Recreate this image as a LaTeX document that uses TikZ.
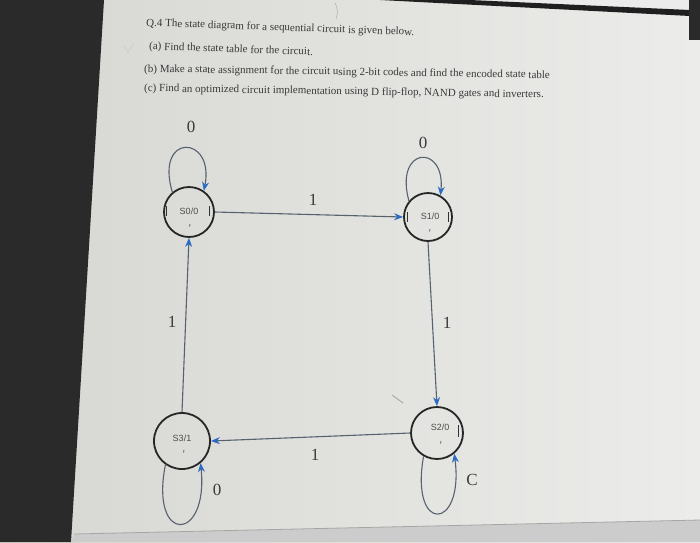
\documentclass[tikz,border=0pt]{standalone}
\usepackage{fontspec}
\setmainfont{Liberation Serif}
\newfontfamily\stfont{Liberation Sans}
\usetikzlibrary{arrows.meta}
\definecolor{pageL}{HTML}{D6D6D2}
\definecolor{pageR}{HTML}{ECECEA}
\definecolor{darkbg}{HTML}{2A2A2A}
\definecolor{linec}{HTML}{56626E}
\definecolor{tipblue}{HTML}{2C6BC4}
\definecolor{txtc}{HTML}{3A3A3A}
\tikzset{
  state/.style={circle, draw=black!85, line width=1.8pt, minimum size=#1, inner sep=0pt},
  edge/.style={draw=linec, line width=1.1pt, -{Stealth[length=9pt,width=7pt,color=tipblue]}},
  lbl/.style={font=\fontsize{17}{17}\selectfont, text=txtc, inner sep=0pt},
  stlbl/.style={font=\stfont\fontsize{9}{9}\selectfont, text=black!70, inner sep=0pt},
  qtext/.style={font=\fontsize{11}{11}\selectfont, text=txtc, anchor=base west, inner sep=0pt},
  bar/.style={draw=black!80, line width=1pt},
  speck/.style={draw=black!60, line width=0.8pt}
}
\begin{document}
\begin{tikzpicture}[x=1pt,y=-1pt]
\useasboundingbox (0,0) rectangle (700,542);
% page and background
\shade[left color=pageL, right color=pageR] (0,0) rectangle (700,542);
\fill[darkbg] (0,0) -- (104,0) -- (71,542) -- (0,542) -- cycle;
\fill[black!8] (480,0) -- (690,0) -- (690,12) -- cycle;
\fill[black!88] (380,0) -- (470,0) -- (690,10) -- (690,16) -- cycle;
\fill[darkbg] (689,0) rectangle (700,40);
\fill[black!20] (71,542) -- (74,534) -- (700,520) -- (700,542) -- cycle;
\draw[black!35, line width=0.8pt] (74,534) -- (700,520);
% question text
\node[qtext, rotate=-2] (q0) at (146,26) {Q.4 The state diagram for a sequential circuit is given below.};
\node[qtext, rotate=-2] (qa) at (149,49.5) {(a) Find the state table for the circuit.};
\node[qtext, rotate=-0.9] (qb) at (144,72) {(b) Make a state assignment for the circuit using 2-bit codes and find the encoded state table};
\node[qtext, rotate=-0.9] (qc) at (144,91.5) {(c) Find an optimized circuit implementation using D flip-flop, NAND gates and inverters.};
% stray marks
\draw[black!30, line width=0.6pt] (335,3) .. controls (338,8) and (338,14) .. (336,19);
\draw[black!35, line width=0.9pt] (392,395) -- (403,403);
\draw[black!20, line width=0.8pt] (124,46) -- (128,52) -- (134,43);
% states
\node[state=50pt] (s0) at (189,212) {};
\node[state=48pt] (s1) at (428,217) {};
\node[state=52pt] (s2) at (437,433) {};
\node[state=56pt] (s3) at (182,441) {};
\node[stlbl] (t0) at (189,211) {S0/0};
\node[stlbl] (t1) at (430,216) {S1/0};
\node[stlbl] (t2) at (440,427) {S2/0};
\node[stlbl] (t3) at (182,438) {S3/1};
% cursor-like bars and dots inside the states
\draw[bar] (166,206) -- (166,216);
\draw[bar] (209,206) -- (209,216);
\draw[bar] (407,212) -- (407,222);
\draw[bar] (448,212) -- (448,222);
\draw[bar] (458,425) -- (458,437);
\draw[speck] (190,224) -- (189.5,226.5);
\draw[speck] (430,229) -- (429.5,231.5);
\draw[speck] (441,441) -- (440.5,443.5);
\draw[speck] (184,450) -- (183.5,452.5);
% transitions
\draw[edge] (s0.east) -- (s1.west);
\draw[edge] (s1.south) -- (s2.north);
\draw[edge] (s2.west) -- (s3.east);
\draw[edge] (s3.north) -- (s0.south);
% self loops
\draw[edge] (s0.130) .. controls +(-18,-60) and +(11,-56) .. (s0.55);
\draw[edge] (s1.140) .. controls +(-15,-55) and +(5,-52) .. (s1.60);
\draw[edge] (s3.235) .. controls +(-16,80) and +(8,80) .. (s3.310);
\draw[edge] (s2.240) .. controls +(-14,78) and +(10,78) .. (s2.310);
% labels
\node[lbl] (l0) at (191,127) {0};
\node[lbl] (l1) at (423,143) {0};
\node[lbl] (l3) at (217,490) {0};
\node[lbl] (l2) at (472,480) {C};
\node[lbl] (e01) at (313,200) {1};
\node[lbl] (e12) at (447,323) {1};
\node[lbl] (e30) at (172,322) {1};
\node[lbl] (e23) at (315,455) {1};
\end{tikzpicture}
\end{document}
